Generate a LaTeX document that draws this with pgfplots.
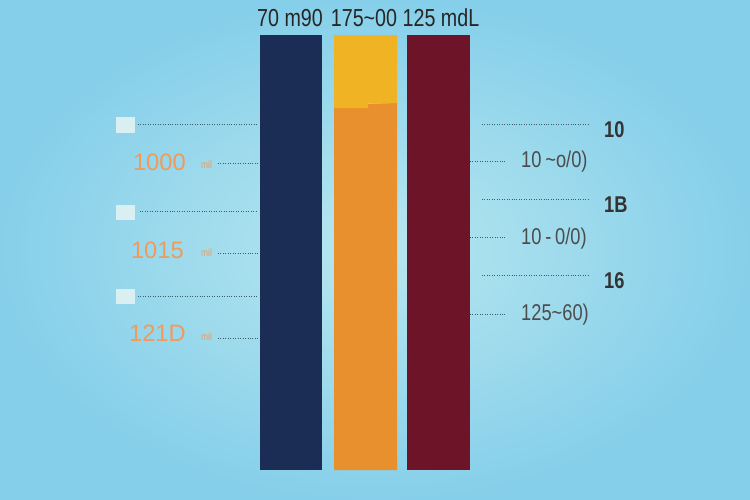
\documentclass[border=0pt]{standalone}
\usepackage{fontspec}
\setmainfont{Liberation Sans}
\newfontfamily\narrow[FakeStretch=0.8]{Liberation Sans}
\usepackage{pgfplots}
\pgfplotsset{compat=1.18}

\definecolor{navy}{HTML}{1B2D54}
\definecolor{gold}{HTML}{F0B323}
\definecolor{orng}{HTML}{E8902E}
\definecolor{maroon}{HTML}{6E1429}
\definecolor{bgin}{HTML}{B8E7EF}
\definecolor{bgout}{HTML}{86CFEA}
\definecolor{dots}{HTML}{3C5E6A}
\definecolor{lbl}{HTML}{F09A5C}
\definecolor{sq}{HTML}{D9EFF1}

\begin{document}
\begin{tikzpicture}
\begin{axis}[
    width=15cm, height=10cm, scale only axis,
    xmin=0, xmax=750, ymin=0, ymax=500, y dir=reverse,
    hide axis, clip=true
]
% background
\fill[inner color=bgin, outer color=bgout] (axis cs:0,0) rectangle (axis cs:750,500);

% bars
\addplot[fill=navy, draw=none] coordinates {(260,35) (322,35) (322,470) (260,470)} -- cycle;
\addplot[fill=orng, draw=none] coordinates {(334,105) (397,103) (397,470) (334,470)} -- cycle;
\addplot[fill=gold, draw=none] coordinates {(334,35) (397,35) (397,103) (368,103) (368,108) (334,108)} -- cycle;
\addplot[fill=maroon, draw=none] coordinates {(407,35) (470,35) (470,470) (407,470)} -- cycle;

% squares
\addplot[fill=sq, draw=none] coordinates {(116,117) (135,117) (135,133) (116,133)} -- cycle;
\addplot[fill=sq, draw=none] coordinates {(116,205) (135,205) (135,220) (116,220)} -- cycle;
\addplot[fill=sq, draw=none] coordinates {(116,289) (135,289) (135,304) (116,304)} -- cycle;

% dotted guides, left
\addplot[dots, densely dotted, thin] coordinates {(138,124) (258,124)};
\addplot[dots, densely dotted, thin] coordinates {(218,163) (258,163)};
\addplot[dots, densely dotted, thin] coordinates {(140,211) (258,211)};
\addplot[dots, densely dotted, thin] coordinates {(218,253) (258,253)};
\addplot[dots, densely dotted, thin] coordinates {(138,296) (258,296)};
\addplot[dots, densely dotted, thin] coordinates {(218,338) (258,338)};
% dotted guides, right
\addplot[dots, densely dotted, thin] coordinates {(482,124) (590,124)};
\addplot[dots, densely dotted, thin] coordinates {(470,161) (505,161)};
\addplot[dots, densely dotted, thin] coordinates {(482,199) (590,199)};
\addplot[dots, densely dotted, thin] coordinates {(470,237) (505,237)};
\addplot[dots, densely dotted, thin] coordinates {(482,275) (590,275)};
\addplot[dots, densely dotted, thin] coordinates {(470,314) (505,314)};

% top labels
\node[font=\narrow\fontsize{14}{15}\selectfont, text=black!85] at (axis cs:290,18) {70 m90};
\node[font=\narrow\fontsize{14}{15}\selectfont, text=black!85] at (axis cs:364,18) {175\textasciitilde00};
\node[font=\narrow\fontsize{14}{15}\selectfont, text=black!85] at (axis cs:441,18) {125 mdL};

% left labels
\node[font=\fontsize{13.5}{14}\selectfont, text=lbl, anchor=east] at (axis cs:192,162) {1000};
\node[font=\fontsize{13.5}{14}\selectfont, text=lbl, anchor=east] at (axis cs:190,250) {1015};
\node[font=\fontsize{13.5}{14}\selectfont, text=lbl, anchor=east] at (axis cs:192,333) {121D};
\node[font=\narrow\fontsize{6}{6}\selectfont, text=lbl, anchor=west] at (axis cs:195,165) {mil};
\node[font=\narrow\fontsize{6}{6}\selectfont, text=lbl, anchor=west] at (axis cs:195,253) {mil};
\node[font=\narrow\fontsize{6}{6}\selectfont, text=lbl, anchor=west] at (axis cs:195,337) {mil};

% right labels
\node[font=\narrow\bfseries\fontsize{13}{14}\selectfont, text=black!80, anchor=west] at (axis cs:598,130) {10};
\node[font=\narrow\bfseries\fontsize{13}{14}\selectfont, text=black!80, anchor=west] at (axis cs:598,205) {1B};
\node[font=\narrow\bfseries\fontsize{13}{14}\selectfont, text=black!80, anchor=west] at (axis cs:598,281) {16};
\node[font=\narrow\fontsize{13}{14}\selectfont, text=black!70, anchor=west] at (axis cs:515,162) {10\,\textasciitilde o/0)};
\node[font=\narrow\fontsize{13}{14}\selectfont, text=black!70, anchor=west] at (axis cs:515,239) {10\,-\,0/0)};
\node[font=\narrow\fontsize{13}{14}\selectfont, text=black!70, anchor=west] at (axis cs:515,315) {125\textasciitilde60)};
\end{axis}
\end{tikzpicture}
\end{document}
